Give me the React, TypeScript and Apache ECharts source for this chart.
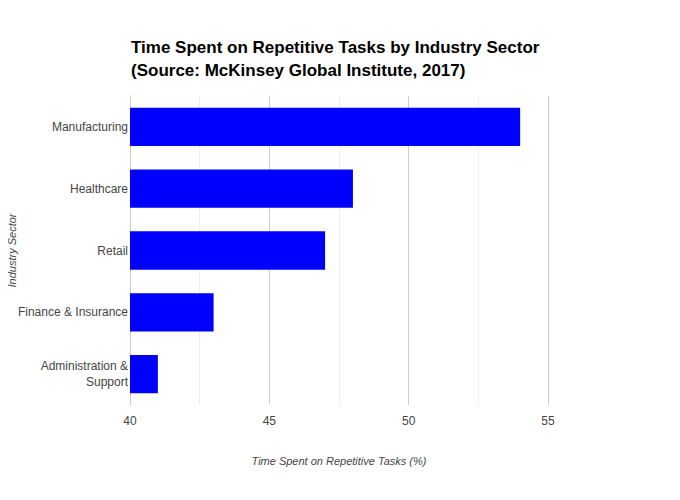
import React, { useEffect, useRef } from "react";
import * as echarts from "echarts";

const categories = [
  "Administration &\nSupport",
  "Finance & Insurance",
  "Retail",
  "Healthcare",
  "Manufacturing",
];
const values = [41, 43, 47, 48, 54];
const xMin = 40;
const xMax = 55;
const xInterval = 5;

export default function App() {
  const ref = useRef<HTMLDivElement>(null);
  useEffect(() => {
    if (!ref.current) return;
    const chart = echarts.init(ref.current, undefined, { renderer: "svg" });
    chart.setOption({
      animation: false,
      backgroundColor: "#fff",
      title: {
        text: "Time Spent on Repetitive Tasks by Industry Sector\n(Source: McKinsey Global Institute, 2017)",
        left: 126,
        top: 31,
        textStyle: {
          fontFamily: "Arial, Liberation Sans, sans-serif",
          fontSize: 17,
          fontWeight: "bold",
          color: "#000",
          lineHeight: 23,
        },
      },
      grid: {
        left: 130,
        right: 132,
        top: 96,
        bottom: 95,
        containLabel: false,
        outerBoundsMode: "none",
      },
      xAxis: {
        type: "value",
        min: xMin,
        max: xMax,
        interval: xInterval,
        name: "Time Spent on Repetitive Tasks (%)",
        nameLocation: "middle",
        nameGap: 50,
        nameMoveOverlap: false,
        nameTextStyle: {
          fontFamily: "Arial, Liberation Sans, sans-serif",
          fontStyle: "italic",
          fontSize: 11,
          color: "#444",
        },
        axisLine: { show: false },
        axisTick: { show: false },
        axisLabel: {
          fontFamily: "Arial, Liberation Sans, sans-serif",
          fontSize: 12,
          color: "#444",
          margin: 10,
        },
        splitLine: { show: true, lineStyle: { color: "#cccccc", width: 1 } },
        minorTick: { show: false, splitNumber: 2 },
        minorSplitLine: { show: true, lineStyle: { color: "#eeeeee", width: 1 } },
      },
      yAxis: {
        type: "category",
        data: categories,
        name: "Industry Sector",
        nameLocation: "middle",
        nameGap: 113,
        nameMoveOverlap: false,
        nameTextStyle: {
          fontFamily: "Arial, Liberation Sans, sans-serif",
          fontStyle: "italic",
          fontSize: 11,
          color: "#444",
        },
        axisLine: { show: true, lineStyle: { color: "#cccccc" } },
        axisTick: { show: false },
        axisLabel: {
          fontFamily: "Arial, Liberation Sans, sans-serif",
          fontSize: 12,
          color: "#444",
          margin: 2,
          lineHeight: 16,
          align: "right",
        },
        splitLine: { show: false },
      },
      series: [
        {
          type: "bar",
          data: values,
          barCategoryGap: "38%",
          itemStyle: { color: "#0000ff" },
        },
      ],
    });
    return () => chart.dispose();
  }, []);
  return <div ref={ref} style={{ width: 680, height: 500, margin: -8 }} />;
}
